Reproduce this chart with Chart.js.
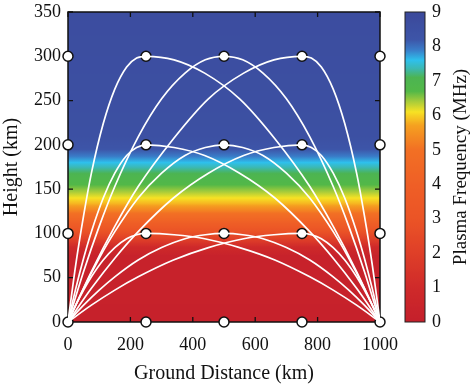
<!DOCTYPE html>
<html><head><meta charset="utf-8">
<script src="https://cdn.jsdelivr.net/npm/chart.js@4"></script>
<style>html,body{margin:0;padding:0;background:#fff}canvas{display:block}</style>
</head><body>
<canvas id="c" width="474" height="384"></canvas>
<script>
// ================= DATA =================
const xTicks = [0, 200, 400, 600, 800, 1000];
const yTicks = [0, 50, 100, 150, 200, 250, 300, 350];
const cbTicks = [0, 1, 2, 3, 4, 5, 6, 7, 8, 9];

// plasma frequency profile (height km -> MHz)
const profileHeight = [0, 75, 85, 95, 105, 115, 125, 133, 140, 147, 155, 165, 173, 180, 187, 195, 210, 350];
const profileFreq   = [0.2, 0.3, 1.0, 2.2, 3.2, 4.3, 5.2, 5.8, 6.1, 6.4, 6.7, 7.0, 7.3, 7.6, 7.9, 8.2, 8.5, 8.7];

// stations (white circles)
const stationX = [0, 250, 500, 750, 1000];
const stationH = [0, 100, 200, 300];

// ray paths [ground distance km, height km]
const ray_250_300 = [[0,0],[25,65],[50,120],[75,168],[113,224],[150,263],[188,288],[220,298],[250,300],[340,296],[438,281],[550,252],[663,207],[775,153],[850,108],[925,57],[1000,0]];
const ray_500_300 = [[0,0],[50,57],[100,108],[150,153],[225,209],[300,252],[375,281],[440,296],[500,300],[560,296],[625,281],[700,252],[775,209],[850,153],[900,108],[950,57],[1000,0]];
const ray_750_300 = [[0,0],[75,57],[150,108],[225,153],[338,207],[450,252],[563,281],[660,296],[750,300],[780,298],[812,288],[850,263],[887,224],[925,168],[950,120],[975,65],[1000,0]];
const ray_250_200 = [[0,0],[25,38],[50,72],[75,102],[113,140],[150,168],[188,188],[220,197],[250,200],[340,197],[438,188],[550,168],[663,140],[775,102],[850,72],[925,38],[1000,0]];
const ray_500_200 = [[0,0],[50,38],[100,72],[150,102],[225,140],[300,168],[375,188],[440,197],[500,200],[560,197],[625,188],[700,168],[775,140],[850,102],[900,72],[950,38],[1000,0]];
const ray_750_200 = [[0,0],[75,38],[150,72],[225,102],[338,140],[450,168],[563,188],[660,197],[750,200],[780,197],[812,188],[850,168],[887,140],[925,102],[950,72],[975,38],[1000,0]];
const ray_250_100 = [[0,0],[25,19],[50,36],[75,51],[113,70],[150,84],[188,94],[220,98.5],[250,100],[340,98.5],[438,94],[550,84],[663,70],[775,51],[850,36],[925,19],[1000,0]];
const ray_500_100 = [[0,0],[50,19],[100,36],[150,51],[225,70],[300,84],[375,94],[440,98.5],[500,100],[560,98.5],[625,94],[700,84],[775,70],[850,51],[900,36],[950,19],[1000,0]];
const ray_750_100 = [[0,0],[75,19],[150,36],[225,51],[338,70],[450,84],[563,94],[660,98.5],[750,100],[780,98.5],[812,94],[850,84],[887,70],[925,51],[950,36],[975,19],[1000,0]];
const rays = [ray_250_300, ray_500_300, ray_750_300, ray_250_200, ray_500_200, ray_750_200, ray_250_100, ray_500_100, ray_750_100];

// ================= STYLE =================
const FONT = "'Liberation Serif', 'Times New Roman', serif";
const CMAP = [[0,'#c41f2b'],[1,'#cf2a2a'],[2,'#df3f28'],[3,'#eb5426'],[4,'#ef5f26'],[5,'#f27024'],[5.7,'#f5a020'],[6.1,'#f7e224'],[6.4,'#a8cc3a'],[6.7,'#52b848'],[7.1,'#4cb452'],[7.35,'#3cb8b0'],[7.6,'#2ec0ec'],[7.9,'#3a7cc8'],[8.2,'#3d55a8'],[9,'#3b489a']];
function rgb(h){return [parseInt(h.slice(1,3),16),parseInt(h.slice(3,5),16),parseInt(h.slice(5,7),16)];}
function cmap(v){
  if (v <= CMAP[0][0]) return CMAP[0][1];
  for (let i = 1; i < CMAP.length; i++) {
    if (v <= CMAP[i][0]) {
      const t = (v - CMAP[i-1][0]) / (CMAP[i][0] - CMAP[i-1][0]);
      const a = rgb(CMAP[i-1][1]), b = rgb(CMAP[i][1]);
      return 'rgb(' + a.map((c,k)=>Math.round(c + (b[k]-c)*t)).join(',') + ')';
    }
  }
  return CMAP[CMAP.length-1][1];
}
function freqAt(h){
  for (let i = 1; i < profileHeight.length; i++) {
    if (h <= profileHeight[i]) {
      const t = (h - profileHeight[i-1]) / (profileHeight[i] - profileHeight[i-1]);
      return profileFreq[i-1] + (profileFreq[i]-profileFreq[i-1])*t;
    }
  }
  return profileFreq[profileFreq.length-1];
}

const bgPlugin = {
  id: 'bg',
  beforeDatasetsDraw(chart) {
    const {ctx, chartArea: ca, scales} = chart;
    const y = scales.y, x = scales.x, cb = scales.cb;
    ctx.save();
    const y0 = y.getPixelForValue(y.min), y1 = y.getPixelForValue(y.max);
    const g = ctx.createLinearGradient(0, y0, 0, y1);
    for (let h = y.min; h <= y.max; h += 1) g.addColorStop((h - y.min)/(y.max - y.min), cmap(freqAt(h)));
    ctx.fillStyle = g;
    ctx.fillRect(ca.left, ca.top, ca.right - ca.left, ca.bottom - ca.top);
    ctx.strokeStyle = '#111';
    ctx.lineWidth = 1.5;
    ctx.strokeRect(ca.left, ca.top, ca.right - ca.left, ca.bottom - ca.top);
    ctx.lineWidth = 1.3;
    const L = 5;
    ctx.beginPath();
    xTicks.forEach(v => {
      const px = x.getPixelForValue(v);
      ctx.moveTo(px, ca.bottom); ctx.lineTo(px, ca.bottom - L);
      ctx.moveTo(px, ca.top); ctx.lineTo(px, ca.top + L);
    });
    yTicks.forEach(v => {
      const py = y.getPixelForValue(v);
      ctx.moveTo(ca.left, py); ctx.lineTo(ca.left + L, py);
      ctx.moveTo(ca.right, py); ctx.lineTo(ca.right - L, py);
    });
    ctx.stroke();
    const bx = cb.left + 25, bw = 20;
    const b0 = cb.getPixelForValue(cb.min), b1 = cb.getPixelForValue(cb.max);
    const g2 = ctx.createLinearGradient(0, b0, 0, b1);
    for (let v = cb.min; v <= cb.max + 1e-9; v += 0.05) g2.addColorStop(Math.min(1,(v - cb.min)/(cb.max - cb.min)), cmap(v));
    ctx.fillStyle = g2;
    ctx.fillRect(bx, b1, bw, b0 - b1);
    ctx.lineWidth = 1;
    ctx.strokeStyle = '#222';
    ctx.strokeRect(bx, b1, bw, b0 - b1);
    ctx.translate(cb.left + 81, (b0 + b1)/2);
    ctx.rotate(-Math.PI/2);
    ctx.fillStyle = '#111';
    ctx.font = "19px " + FONT;
    ctx.textAlign = 'center';
    ctx.textBaseline = 'middle';
    ctx.fillText('Plasma Frequency (MHz)', 0, 0);
    ctx.restore();
  }
};

const stations = [];
stationH.forEach(h => stationX.forEach(x => stations.push([x, h])));

const datasets = rays.map(r => ({
  data: r,
  borderColor: '#ffffff',
  borderWidth: 1.7,
  pointRadius: 0,
  fill: false,
  cubicInterpolationMode: 'monotone',
  yAxisID: 'y'
}));
datasets.push({
  data: stations,
  showLine: false,
  pointRadius: 5,
  pointBorderWidth: 1.5,
  pointBackgroundColor: '#ffffff',
  pointBorderColor: '#111',
  clip: false,
  yAxisID: 'y'
});

const tickFont = {family: FONT, size: 18};
const hiddenGrid = (len) => ({display: true, drawOnChartArea: false, drawTicks: true, tickLength: len, color: 'rgba(0,0,0,0)'});
new Chart(document.getElementById('c'), {
  type: 'line',
  data: {datasets},
  plugins: [bgPlugin],
  options: {
    responsive: false,
    animation: false,
    events: [],
    layout: {padding: {top: 12, left: 0, right: 0, bottom: 0}},
    plugins: {legend: {display: false}, tooltip: {enabled: false}, title: {display: false}},
    scales: {
      x: {
        type: 'linear', min: 0, max: 1000,
        afterBuildTicks: s => { s.ticks = xTicks.map(v => ({value: v})); },
        afterFit: s => { s.height = 62; },
        grid: hiddenGrid(12),
        border: {display: false},
        ticks: {font: tickFont, color: '#111', padding: 0, maxRotation: 0, callback: v => String(v)},
        title: {display: true, text: 'Ground Distance (km)', color: '#111', font: {family: FONT, size: 20, lineHeight: 1.0}, padding: {top: 0, bottom: 0}}
      },
      y: {
        type: 'linear', position: 'left', min: 0, max: 350,
        afterBuildTicks: s => { s.ticks = yTicks.map(v => ({value: v})); },
        afterFit: s => { s.width = 68; },
        grid: hiddenGrid(7),
        border: {display: false},
        ticks: {font: tickFont, color: '#111', padding: 0, callback: v => String(v)},
        title: {display: true, text: 'Height (km)', color: '#111', font: {family: FONT, size: 20, lineHeight: 1.2}, padding: {top: 0, bottom: 0}}
      },
      cb: {
        type: 'linear', position: 'right', min: 0, max: 9,
        afterBuildTicks: s => { s.ticks = cbTicks.map(v => ({value: v})); },
        afterFit: s => { s.width = 94; },
        grid: hiddenGrid(52),
        border: {display: false},
        ticks: {font: tickFont, color: '#111', padding: 0, callback: v => String(v)}
      }
    }
  }
});
</script>
</body></html>
